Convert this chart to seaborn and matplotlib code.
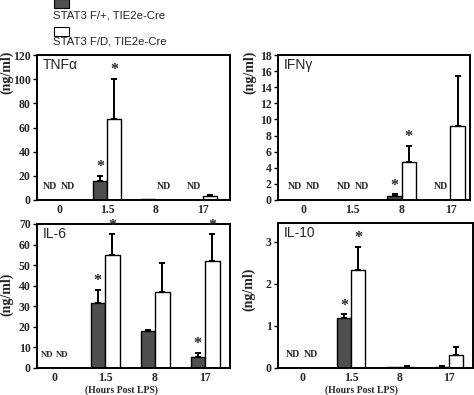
import numpy as np
import pandas as pd
import matplotlib
matplotlib.use("Agg")
import matplotlib.pyplot as plt
import matplotlib.transforms as mtrans
from matplotlib.patches import Rectangle
import seaborn as sns

nan = np.nan
times = ["0", "1.5", "8", "17"]
groups = ["STAT3 F/+, TIE2e-Cre", "STAT3 F/D, TIE2e-Cre"]

tnf_fp = [nan, 16, 0.5, nan]
tnf_fp_err = [nan, 4, 0, nan]
tnf_fd = [nan, 67, nan, 3]
tnf_fd_err = [nan, 33, nan, 1.5]

ifn_fp = [nan, nan, 0.55, nan]
ifn_fp_err = [nan, nan, 0.15, nan]
ifn_fd = [nan, nan, 4.7, 9.2]
ifn_fd_err = [nan, nan, 2.0, 6.2]

il6_fp = [nan, 31.5, 18, 5.5]
il6_fp_err = [nan, 6.5, 0.5, 2]
il6_fd = [nan, 55, 37, 52]
il6_fd_err = [nan, 10, 14, 13]

il10_fp = [nan, 1.2, 0.02, 0.03]
il10_fp_err = [nan, 0.08, 0, 0.02]
il10_fd = [nan, 2.33, 0.03, 0.32]
il10_fd_err = [nan, 0.55, 0.01, 0.18]

# ND flags and significance stars (per group, per time)
tnf_nd = [[1, 0, 0, 1], [1, 0, 1, 0]]
tnf_star = [[0, 1, 0, 0], [0, 1, 0, 0]]
ifn_nd = [[1, 1, 0, 1], [1, 1, 0, 0]]
ifn_star = [[0, 0, 1, 0], [0, 0, 1, 0]]
il6_nd = [[1, 0, 0, 0], [1, 0, 0, 0]]
il6_star = [[0, 1, 0, 1], [0, 1, 0, 1]]
il10_nd = [[1, 0, 0, 0], [1, 0, 0, 0]]
il10_star = [[0, 1, 0, 0], [0, 1, 0, 0]]

sns.set_theme(style="white")
plt.rcParams["font.family"] = ["Liberation Serif", "DejaVu Serif"]

W, H = 474, 395
fig = plt.figure(figsize=(W / 100, H / 100), dpi=100)

def fr(l, t, r, b):
    return [l / W, (H - b) / H, (r - l) / W, (b - t) / H]

panels = [
    dict(name="TNFα", fp=tnf_fp, fpe=tnf_fp_err, fd=tnf_fd, fde=tnf_fd_err,
         nd=tnf_nd, star=tnf_star, rect=fr(37, 55, 230, 200), ylim=120,
         yticks=np.arange(0, 121, 20), xlim=(-0.46, 3.56), ylab=(-0.124, 0.88),
         xlab=None, ndoff=0.19, ndfs=7),
    dict(name="IFNγ", fp=ifn_fp, fpe=ifn_fp_err, fd=ifn_fd, fde=ifn_fd_err,
         nd=ifn_nd, star=ifn_star, rect=fr(278, 55, 470, 200), ylim=18,
         yticks=np.arange(0, 19, 2), xlim=(-0.53, 3.4), ylab=(-0.115, 0.88),
         xlab=None, ndoff=0.19, ndfs=7),
    dict(name="IL-6", fp=il6_fp, fpe=il6_fp_err, fd=il6_fd, fde=il6_fd_err,
         nd=il6_nd, star=il6_star, rect=fr(37, 224, 230, 368), ylim=70,
         yticks=np.arange(0, 71, 10), xlim=(-0.36, 3.5), ylab=(-0.124, 0.51),
         xlab=(0.44, -0.122), ndoff=0.15, ndfs=6.3),
    dict(name="IL-10", fp=il10_fp, fpe=il10_fp_err, fd=il10_fd, fde=il10_fd_err,
         nd=il10_nd, star=il10_star, rect=fr(278, 223, 473, 368), ylim=3.45,
         yticks=[0, 1, 2, 3], xlim=(-0.49, 3.49), ylab=(-0.118, 0.54),
         xlab=(0.43, -0.122), ndoff=0.19, ndfs=7),
]

colors = ["#4f4f4f", "#ffffff"]
bw = 0.58
offs = [-bw / 4, bw / 4]

for p in panels:
    ax = fig.add_axes(p["rect"])
    df = pd.DataFrame({
        "time": times * 2,
        "group": [groups[0]] * 4 + [groups[1]] * 4,
        "val": list(p["fp"]) + list(p["fd"]),
    })
    sns.barplot(data=df, x="time", y="val", hue="group", order=times,
                hue_order=groups, palette=colors, width=bw, errorbar=None,
                edgecolor="black", linewidth=1.0, legend=False, ax=ax)
    trans = mtrans.blended_transform_factory(ax.transData, ax.transAxes)
    for g, (vals, errs) in enumerate([(p["fp"], p["fpe"]), (p["fd"], p["fde"])]):
        for i in range(4):
            x = i + offs[g]
            v, e = vals[i], errs[i]
            if not np.isnan(v) and e > 0:
                ax.errorbar([x], [v], yerr=[[0], [e]], fmt="none", ecolor="black",
                            elinewidth=1.4, capsize=2.3, capthick=1.4)
            if p["nd"][g][i]:
                xn = i + (p["ndoff"] if g else -p["ndoff"])
                ax.text(xn, 0.09, "ND", transform=trans, ha="center", va="center",
                        fontsize=p["ndfs"], fontweight="bold")
            if p["star"][g][i]:
                top = v + (e if not np.isnan(e) else 0)
                ax.annotate("*", (x, top), xytext=(0, 0.5), textcoords="offset points",
                            ha="center", va="bottom", fontsize=11.5, fontweight="bold")
    ax.set_xlim(*p["xlim"])
    ax.set_ylim(0, p["ylim"])
    ax.set_yticks(p["yticks"])
    ax.set_yticklabels([f"{t:g}" for t in p["yticks"]], fontsize=8.5, fontweight="bold")
    ax.set_xticks(range(4))
    ax.set_xticklabels(times, fontsize=8.5, fontweight="bold")
    ax.tick_params(axis="y", length=3, width=1, pad=1.5, left=True, color="black")
    ax.tick_params(axis="x", length=0, pad=3)
    for s in ax.spines.values():
        s.set_visible(True)
        s.set_color("black")
        s.set_linewidth(1.4)
    ax.set_ylabel("(ng/ml)", fontsize=10, fontweight="bold")
    ax.yaxis.set_label_coords(*p["ylab"])
    if p["xlab"] is not None:
        ax.set_xlabel("(Hours Post LPS)", fontsize=7, fontweight="bold")
        ax.xaxis.set_label_coords(*p["xlab"])
    else:
        ax.set_xlabel("")
    ax.text(0.03, 0.93, p["name"], transform=ax.transAxes, ha="left", va="center",
            fontsize=10, family=["Liberation Sans", "DejaVu Sans"])

# legend at top
for g, (ytop, ytxt) in enumerate([(-1, 15), (27, 42)]):
    fig.patches.append(Rectangle((54 / W, (H - ytop - 9) / H), 15 / W, 9 / H,
                                 transform=fig.transFigure, facecolor=colors[g],
                                 edgecolor="black", linewidth=0.8))
    fig.text(53 / W, (H - ytxt) / H, groups[g], ha="left", va="center",
             fontsize=8.2, family=["Liberation Sans", "DejaVu Sans"])

fig.savefig("out.png", dpi=100)
